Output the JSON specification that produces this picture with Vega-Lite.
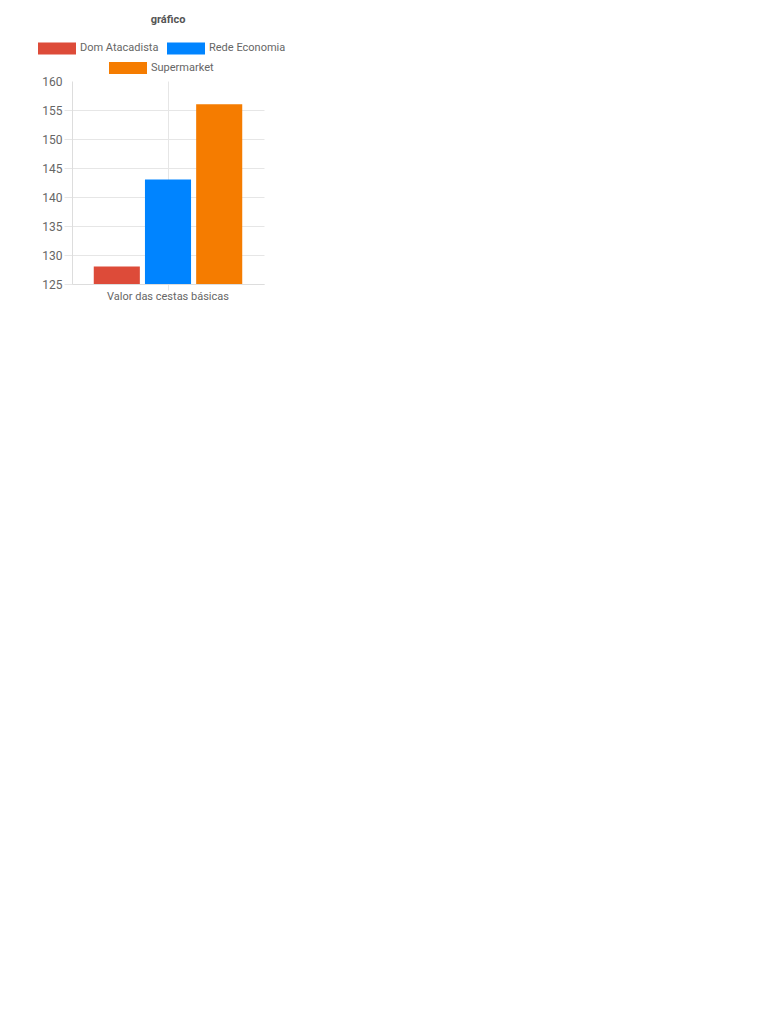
{
  "$schema": "https://vega.github.io/schema/vega-lite/v6.json",
  "autosize": "none",
  "width": 192,
  "height": 203,
  "padding": {"left": 72, "top": 81, "right": 60, "bottom": 40},
  "title": {
    "text": "gráfico",
    "frame": "group",
    "anchor": "middle",
    "offset": 4,
    "font": "Roboto",
    "fontSize": 11,
    "fontWeight": "bold",
    "color": "#555"
  },
  "data": {
    "values": [
      {"grupo": "Valor das cestas básicas", "loja": "Dom Atacadista", "valor": 128},
      {"grupo": "Valor das cestas básicas", "loja": "Rede Economia", "valor": 143},
      {"grupo": "Valor das cestas básicas", "loja": "Supermarket", "valor": 156}
    ]
  },
  "encoding": {
    "x": {
      "field": "grupo",
      "type": "nominal",
      "scale": {"paddingInner": 0, "paddingOuter": 0.125},
      "axis": {
        "title": null,
        "labelAngle": 0,
        "grid": true,
        "bandPosition": 0.5,
        "tickSize": 6,
        "labelPadding": 0,
        "labelFontSize": 11
      }
    },
    "xOffset": {
      "field": "loja",
      "type": "nominal",
      "sort": ["Dom Atacadista", "Rede Economia", "Supermarket"],
      "scale": {"paddingInner": 0.1, "paddingOuter": 0.05}
    },
    "y": {
      "field": "valor",
      "type": "quantitative",
      "scale": {"domain": [125, 160], "zero": false, "nice": false},
      "axis": {
        "title": null,
        "values": [125, 130, 135, 140, 145, 150, 155, 160],
        "tickSize": 8,
        "labelPadding": 2,
        "labelFontSize": 12,
        "gridOpacity": {"condition": {"test": "datum.value == 160", "value": 0}, "value": 1},
        "tickOpacity": {"condition": {"test": "datum.value == 160", "value": 0}, "value": 1}
      }
    },
    "y2": {"datum": 125}
  },
  "layer": [
    {
      "mark": "bar",
      "encoding": {
        "color": {
          "field": "loja",
          "type": "nominal",
          "scale": {
            "domain": ["Dom Atacadista", "Rede Economia", "Supermarket"],
            "range": ["#dd4b39", "#0084ff", "#f57c00"]
          },
          "legend": {
            "title": null,
            "orient": "none",
            "direction": "horizontal",
            "values": ["Dom Atacadista", "Rede Economia"],
            "legendX": -34,
            "legendY": -52,
            "columnPadding": 8,
            "symbolType": "M-1,-0.3158H1V0.3158H-1Z",
            "symbolSize": 1444,
            "symbolStrokeWidth": 0,
            "symbolOpacity": 1,
            "labelOffset": 4,
            "labelFontSize": 11,
            "labelColor": "#666",
            "labelFont": "Roboto"
          }
        }
      }
    },
    {
      "mark": {"type": "bar", "opacity": 0},
      "encoding": {
        "fill": {
          "field": "loja",
          "type": "nominal",
          "scale": {
            "domain": ["Dom Atacadista", "Rede Economia", "Supermarket"],
            "range": ["#dd4b39", "#0084ff", "#f57c00"]
          },
          "legend": {
            "title": null,
            "orient": "none",
            "direction": "horizontal",
            "values": ["Supermarket"],
            "legendX": 37,
            "legendY": -32,
            "symbolType": "M-1,-0.3158H1V0.3158H-1Z",
            "symbolSize": 1444,
            "symbolStrokeWidth": 0,
            "symbolOpacity": 1,
            "labelOffset": 4,
            "labelFontSize": 11,
            "labelColor": "#666",
            "labelFont": "Roboto"
          }
        }
      }
    }
  ],
  "resolve": {"legend": {"color": "independent", "fill": "independent"}},
  "config": {
    "font": "Roboto",
    "view": {"stroke": null},
    "axis": {
      "labelFont": "Roboto",
      "labelColor": "#666",
      "gridColor": "#e6e6e6",
      "tickColor": "#e6e6e6",
      "domainColor": "#dddddd"
    }
  }
}
